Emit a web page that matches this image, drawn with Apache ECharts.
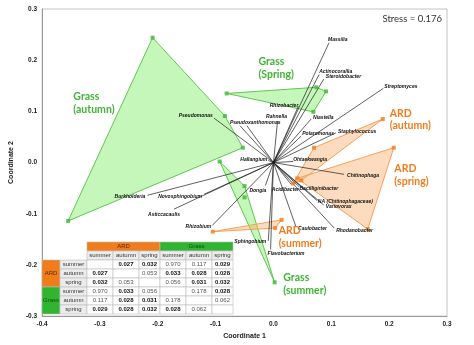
<!DOCTYPE html>
<html><head><meta charset="utf-8">
<script src="https://cdn.jsdelivr.net/npm/echarts@6/dist/echarts.min.js"></script>
<style>html,body{margin:0;padding:0;background:#fff}#c{width:474px;height:345px}</style>
</head><body><div id="c"></div>
<script>
// ---------- data ----------
const taxa = ['Massilia','Actinocorallia','Steroidobacter','Streptomyces','Rhizobacter','Rahnella','Niastella','Polaromonas','Staphylococcus','Pseudomonas','Pseudoxanthomonas','','Hallangium','Ohtaekwangia','Chitinophaga','Burkholderia','Novosphingobium','Asticcacaulis','Rhizobium','Dongia','Acidibacter','Bacilliginibacter','NA (Chitinophagaceae)','Variovorax','Caulobacter','Rhodanobacter','Sphingobium','Flavobacterium'];
const taxaX = [0.096,0.079,0.087,0.190,0.043,0.007,0.065,0.048,0.108,-0.103,-0.058,-0.046,-0.009,0.034,0.122,-0.218,-0.120,-0.172,-0.106,-0.014,0.031,0.045,0.075,0.087,0.039,0.105,-0.009,-0.005];
const taxaY = [0.234,0.172,0.163,0.145,0.110,0.081,0.085,0.052,0.058,0.087,0.072,0.072,0.004,0.002,-0.023,-0.064,-0.062,-0.091,-0.123,-0.045,-0.043,-0.048,-0.074,-0.083,-0.126,-0.128,-0.153,-0.170];

const grassAutumn = [[-0.209,0.244],[-0.084,0.091],[-0.053,0.029],[-0.355,-0.114]];
const grassSpring = [[-0.081,0.135],[0.074,0.147],[0.091,0.139],[0.069,0.099]];
const grassSummer = [[-0.093,0.002],[-0.050,-0.046],[0.002,-0.234]];
const grassSummerExtra = [[-0.050,-0.068]];
const ardAutumn = [[0.070,0.029],[0.189,0.085],[0.048,-0.035],[0.034,-0.041]];
const ardSpring = [[0.041,-0.031],[0.208,0.029],[0.163,-0.130]];
const ardSummer = [[-0.105,-0.135],[0.014,-0.112],[0.003,-0.128]];

const groupNames = ['Grass\n(autumn)','Grass\n(Spring)','Grass\n(summer)','ARD\n(autumn)','ARD\n(spring)','ARD\n(summer)'];
const groupLabelAt = [[-0.346,0.116],[-0.026,0.184],[0.017,-0.237],[0.201,0.084],[0.209,-0.024],[0.009,-0.146]];
const groupKind = ['grass','grass','grass','ard','ard','ard'];

const stressText = 'Stress = 0.176';

const seasons = ['summer','autumn','spring'];
const treatments = ['ARD','Grass'];
const pValues = [
  [null,0.027,0.032,0.970,0.117,0.029],
  [0.027,null,0.053,0.033,0.028,0.028],
  [0.032,0.053,null,0.056,0.031,0.032],
  [0.970,0.033,0.056,null,0.178,0.028],
  [0.117,0.028,0.031,0.178,null,0.062],
  [0.029,0.028,0.032,0.028,0.062,null]
];

// ---------- layout (px offsets for taxon labels) ----------
const labelLayout = [
 ['left',-1,-3],['left',0,-3],['left',2,-2],['left',1,-2],['right',0,-1],['center',-1,-4],['left',2,-1],['left',1,-2],['left',2,-1],
 ['right',-1,-2],['left',-10,-3],['left',0,0],['right',-1,-1],['left',0,-2],['left',3,1],['right',-2,1],['right',-2,2],['right',6,5],
 ['right',-1,1],['right',1,5],['center',-6,5],['left',0,2],['left',1,1],['left',2,2],['left',2,2],['left',2,3],['right',-2,1],['left',-3,4]
];

const GREEN = '#3fb634', GREEN_FILL = 'rgba(150,238,130,0.55)', GREEN_LINE = '#62c653';
const ORANGE = '#f07c1c', ORANGE_FILL = 'rgba(250,175,110,0.45)', ORANGE_LINE = '#f5a05a';
const FONT = '"Liberation Sans", Arial, sans-serif';

function polygonSeries(pts, kind) {
  return {
    type: 'custom', coordinateSystem: 'cartesian2d', silent: true, z: 1,
    data: [pts[0]],
    renderItem: (params, api) => ({
      type: 'polygon',
      shape: { points: pts.map(p => api.coord(p)) },
      style: { fill: kind === 'grass' ? GREEN_FILL : ORANGE_FILL, stroke: kind === 'grass' ? GREEN_LINE : ORANGE_LINE, lineWidth: 1 }
    })
  };
}
function markerSeries(pts, kind) {
  return { type: 'scatter', symbol: 'rect', symbolSize: 4, z: 5, silent: true,
    itemStyle: { color: kind === 'grass' ? GREEN : ORANGE }, data: pts };
}

const chart = echarts.init(document.getElementById('c'), null, { renderer: 'canvas' });

const series = [
  polygonSeries(grassAutumn,'grass'), polygonSeries(grassSpring,'grass'), polygonSeries(grassSummer,'grass'),
  polygonSeries(ardAutumn,'ard'), polygonSeries(ardSpring,'ard'), polygonSeries(ardSummer,'ard'),
  {
    type: 'custom', coordinateSystem: 'cartesian2d', silent: true, z: 3,
    data: taxa.map((n, i) => [taxaX[i], taxaY[i]]),
    renderItem: (params, api) => {
      const o = api.coord([0, 0]);
      const p = api.coord([api.value(0), api.value(1)]);
      return { type: 'line', shape: { x1: o[0], y1: o[1], x2: p[0], y2: p[1] }, style: { stroke: '#1c1c1c', lineWidth: 0.7 } };
    }
  },
  {
    type: 'custom', coordinateSystem: 'cartesian2d', silent: true, z: 6,
    data: taxa.map((n, i) => [taxaX[i], taxaY[i], i]),
    renderItem: (params, api) => {
      const i = api.value(2);
      const p = api.coord([api.value(0), api.value(1)]);
      const L = labelLayout[i];
      return { type: 'text', x: p[0] + L[1], y: p[1] + L[2],
        style: { text: taxa[i], align: L[0], verticalAlign: 'middle', font: 'italic bold 5px ' + FONT, fill: '#111' } };
    }
  },
  markerSeries(grassAutumn,'grass'), markerSeries(grassSpring,'grass'), markerSeries(grassSummer.concat(grassSummerExtra),'grass'),
  markerSeries(ardAutumn,'ard'), markerSeries(ardSpring,'ard'), markerSeries(ardSummer,'ard'),
  {
    type: 'custom', coordinateSystem: 'cartesian2d', silent: true, z: 7,
    data: groupLabelAt.map((p, i) => [p[0], p[1], i]),
    renderItem: (params, api) => {
      const i = api.value(2);
      const p = api.coord([api.value(0), api.value(1)]);
      return { type: 'text', x: p[0], y: p[1],
        style: { text: groupNames[i], align: 'left', verticalAlign: 'middle', lineHeight: 12.7,
          font: 'bold 10.5px Lato, ' + FONT, fill: groupKind[i] === 'grass' ? GREEN : ORANGE } };
    }
  }
];

// ---------- table (graphic) ----------
const colEdges = [87,113,139,160,186,212,233];
const rowEdges = [260,269,278,287,296,305,314];
const headTop = 242, subTop = 251;
const BORDER = '#bdbdbd', GRAYCELL = '#ececec';
const tbl = [];
function cell(x0, y0, x1, y1, fill, text, font, color) {
  tbl.push({ type: 'rect', shape: { x: x0, y: y0, width: x1 - x0, height: y1 - y0 }, style: { fill: fill, stroke: BORDER, lineWidth: 0.6 }, z: 20 });
  if (text) tbl.push({ type: 'text', x: (x0 + x1) / 2, y: (y0 + y1) / 2 + 0.3, style: { text: text, align: 'center', verticalAlign: 'middle', font: font, fill: color }, z: 21 });
}
const tFont = '6px ' + FONT, tBold = 'bold 6px ' + FONT;
cell(colEdges[0], headTop, colEdges[3], subTop, ORANGE, treatments[0], tFont, '#5a2c08');
cell(colEdges[3], headTop, colEdges[6], subTop, '#2fb52f', treatments[1], tFont, '#124d12');
for (let c = 0; c < 6; c++) cell(colEdges[c], subTop, colEdges[c + 1], rowEdges[0], GRAYCELL, seasons[c % 3], tFont, '#333');
cell(42, rowEdges[0], 60, rowEdges[3], ORANGE, treatments[0], tFont, '#5a2c08');
cell(42, rowEdges[3], 60, rowEdges[6], '#2fb52f', treatments[1], tFont, '#124d12');
for (let r = 0; r < 6; r++) {
  cell(60, rowEdges[r], 87, rowEdges[r + 1], GRAYCELL, seasons[r % 3], tFont, '#333');
  for (let c = 0; c < 6; c++) {
    const v = pValues[r][c];
    const sig = v !== null && v < 0.05;
    cell(colEdges[c], rowEdges[r], colEdges[c + 1], rowEdges[r + 1], '#fff', v === null ? '' : v.toFixed(3), sig ? tBold : tFont, sig ? '#111' : '#555');
  }
}
tbl.push({ type: 'text', right: 32, top: 14, style: { text: stressText, font: '9.5px Lato, ' + FONT, fill: '#333' }, z: 22 });

chart.setOption({
  animation: false,
  backgroundColor: '#fff',
  grid: { left: 39, right: 27, top: 9, bottom: 26, show: true, borderColor: '#c4c4c4', borderWidth: 1 },
  xAxis: {
    type: 'value', min: -0.4, max: 0.3, interval: 0.1,
    name: 'Coordinate 1', nameLocation: 'middle', nameGap: 13,
    nameTextStyle: { fontFamily: FONT, fontWeight: 'bold', fontSize: 7, color: '#222' },
    axisLine: { show: true, onZero: false, lineStyle: { color: '#9a9a9a', width: 1 } },
    axisTick: { show: false }, splitLine: { show: false },
    axisLabel: { formatter: v => v.toFixed(1), fontFamily: FONT, fontWeight: 'bold', fontSize: 6.5, color: '#222', margin: 5 }
  },
  yAxis: {
    type: 'value', min: -0.3, max: 0.3, interval: 0.1,
    name: 'Coordinate 2', nameLocation: 'middle', nameGap: 16,
    nameTextStyle: { fontFamily: FONT, fontWeight: 'bold', fontSize: 7, color: '#222' },
    axisLine: { show: true, onZero: false, lineStyle: { color: '#9a9a9a', width: 1 } },
    axisTick: { show: false }, splitLine: { show: false },
    axisLabel: { formatter: v => v.toFixed(1), fontFamily: FONT, fontWeight: 'bold', fontSize: 6.5, color: '#222', margin: 5 }
  },
  series: series,
  graphic: tbl
});
</script></body></html>
